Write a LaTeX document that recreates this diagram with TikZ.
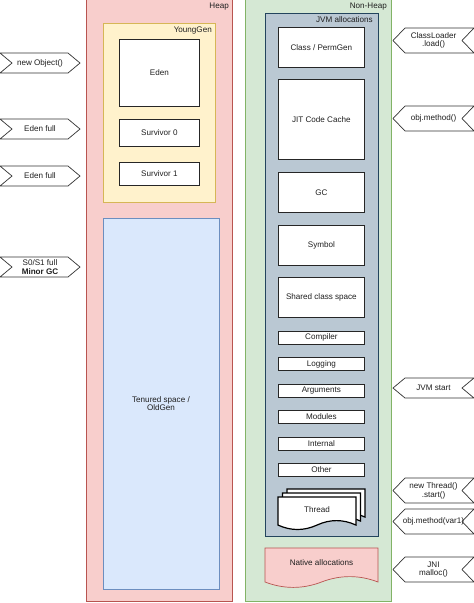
\documentclass[tikz,border=0pt]{standalone}
\usepackage{fontspec}
\setmainfont{Liberation Sans}
\newcommand\docshape[5]{%
  \draw[#1] (#2,#3) -- ({#2+#4},#3) -- ({#2+#4},{#3+#5-0.15*#5})
    .. controls ({#2+0.8333*#4},{#3+#5-0.33*#5}) and ({#2+0.6667*#4},{#3+#5-0.33*#5}) .. ({#2+0.5*#4},{#3+#5-0.15*#5})
    .. controls ({#2+0.3333*#4},{#3+#5+0.03*#5}) and ({#2+0.1667*#4},{#3+#5+0.03*#5}) .. (#2,{#3+#5-0.15*#5}) -- cycle;}
\newcommand\leftstep[4]{% name, top, bottom, text
  \draw[stepline] (0,#2) -- (68,#2) -- (80,{(#2+#3)/2}) -- (68,#3) -- (0,#3) -- (12,{(#2+#3)/2}) -- cycle;
  \node[lbl] (#1) at (40,{(#2+#3)/2}) {#4};}
\newcommand\rightstep[4]{%
  \draw[stepline] (393,{(#2+#3)/2}) -- (405,#2) -- (474,#2) -- (462,{(#2+#3)/2}) -- (474,#3) -- (405,#3) -- cycle;
  \node[lbl] (#1) at (433.5,{(#2+#3)/2}) {#4};}
\definecolor{heapfill}{HTML}{F8CECC}
\definecolor{heapdraw}{HTML}{B85450}
\definecolor{ygfill}{HTML}{FFF2CC}
\definecolor{ygdraw}{HTML}{D6B656}
\definecolor{tfill}{HTML}{DAE8FC}
\definecolor{tdraw}{HTML}{6C8EBF}
\definecolor{nhfill}{HTML}{D5E8D4}
\definecolor{nhdraw}{HTML}{82B366}
\definecolor{jvmfill}{HTML}{BAC8D3}
\definecolor{jvmdraw}{HTML}{23445D}
\begin{document}
\begin{tikzpicture}[x=1pt,y=-1pt,
  every node/.style={font=\fontsize{8.1}{8.8}\selectfont, text=black!88},
  lbl/.style={inner sep=0pt, align=center},
  cont/.style={line width=0.7pt},
  box/.style={draw=black!85, fill=white, line width=0.8pt, inner sep=0pt, align=center, anchor=north west},
  stepline/.style={draw=black!80, fill=white, line width=0.7pt},
  corner/.style={inner sep=1pt, anchor=north east}]
\useasboundingbox (0,0) rectangle (474,603);
% Heap
\draw[cont, fill=heapfill, draw=heapdraw] (86,-2) rectangle (232,601.5);
\node[corner] (heaplbl) at (230,2) {Heap};
\draw[cont, fill=ygfill, draw=ygdraw] (103,23) rectangle (215,202);
\node[corner] (yglbl) at (213,26) {YoungGen};
\node[box, minimum width=80pt, minimum height=67pt] (eden) at (119,39) {Eden};
\node[box, minimum width=80pt, minimum height=27pt] (s0) at (119,119) {Survivor 0};
\node[box, minimum width=80pt, minimum height=23pt] (s1) at (119,162) {Survivor 1};
\draw[cont, fill=tfill, draw=tdraw] (103,218) rectangle (219,589);
\node[lbl] (tenured) at (161,403.5) {Tenured space /\\OldGen};
% Non-heap
\draw[cont, fill=nhfill, draw=nhdraw] (245,-2) rectangle (391,601.5);
\node[corner] (nhlbl) at (388,2) {Non-Heap};
\draw[cont, fill=jvmfill, draw=jvmdraw] (265,13) rectangle (378,536);
\node[corner] (jvmlbl) at (374,15) {JVM allocations};
\node[box, minimum width=86pt, minimum height=40pt] (perm) at (278,27) {Class / PermGen};
\node[box, minimum width=86pt, minimum height=80pt] (jit) at (278,79) {JIT Code Cache};
\node[box, minimum width=86pt, minimum height=40pt] (gc) at (278,172) {GC};
\node[box, minimum width=86pt, minimum height=40pt] (sym) at (278,225) {Symbol};
\node[box, minimum width=86pt, minimum height=40pt] (shared) at (278,277) {Shared class space};
\node[box, minimum width=86pt, minimum height=13pt] (comp) at (278,331) {Compiler};
\node[box, minimum width=86pt, minimum height=13pt] (logg) at (278,357) {Logging};
\node[box, minimum width=86pt, minimum height=13pt] (args) at (278,384) {Arguments};
\node[box, minimum width=86pt, minimum height=13pt] (mods) at (278,410) {Modules};
\node[box, minimum width=86pt, minimum height=13pt] (intern) at (278,437) {Internal};
\node[box, minimum width=86pt, minimum height=13pt] (other) at (278,463) {Other};
\docshape{draw=black, fill=white, line width=1.2pt}{287}{489}{78}{33}
\docshape{draw=black, fill=white, line width=1.2pt}{282.5}{493}{78}{33}
\docshape{draw=black, fill=white, line width=1.2pt}{278}{497}{78}{33}
\node[lbl] (thread) at (317,510) {Thread};
\docshape{draw=heapdraw, fill=heapfill, line width=0.7pt}{265}{548}{113}{40}
\node[lbl] (native) at (321.5,563) {Native allocations};
% left steps
\leftstep{newobj}{53}{73}{new Object()}
\leftstep{edenfull1}{119}{139}{Eden full}
\leftstep{edenfull2}{166}{186}{Eden full}
\leftstep{minorgc}{257}{277}{S0/S1 full\\\textbf{Minor GC}}
% right steps
\rightstep{cload}{28}{53}{ClassLoader\\.load()}
\rightstep{objm}{106}{131}{obj.method()}
\rightstep{jvmstart}{378}{398}{JVM start}
\rightstep{newthread}{478}{503}{new Thread()\\.start()}
\rightstep{objmvar}{509}{534}{obj.method(var1)}
\rightstep{jni}{557}{582}{JNI\\malloc()}
\end{tikzpicture}
\end{document}
